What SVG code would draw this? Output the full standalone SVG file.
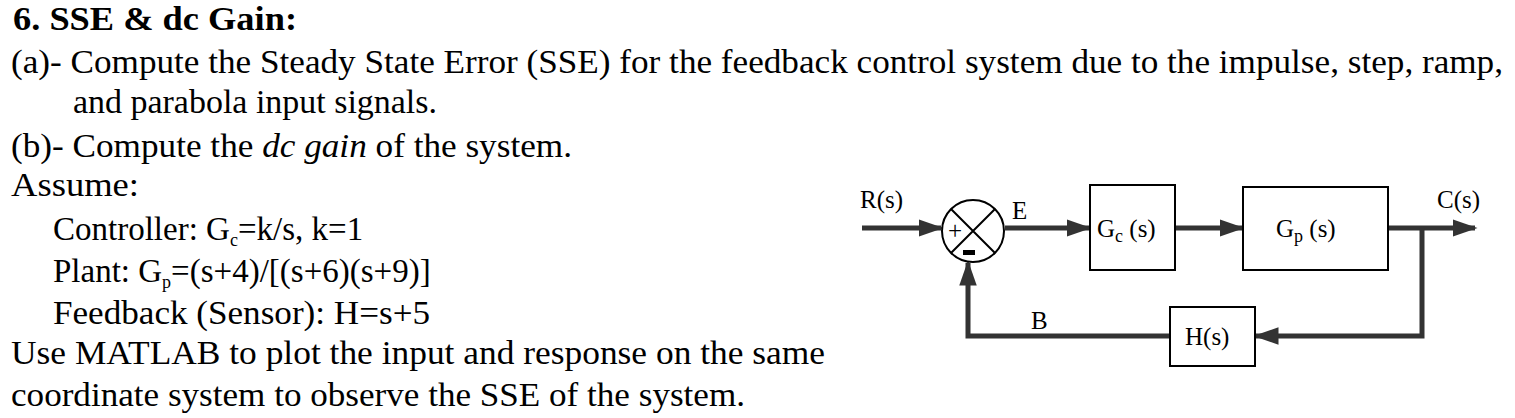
<svg xmlns="http://www.w3.org/2000/svg" width="1515" height="418" viewBox="0 0 1515 418">
<style>
.t{font-family:"Liberation Serif",serif;font-size:33px;fill:#000}
.d{font-family:"Liberation Serif",serif;font-size:25px;fill:#000}
.s{font-size:18px}
.b{fill:#fff;stroke:#000;stroke-width:2}
.w{fill:none;stroke:#333;stroke-width:5}
</style>
<defs><marker id="a" viewBox="0 0 10 10" refX="9" refY="5" markerWidth="5" markerHeight="3.5" orient="auto" markerUnits="strokeWidth" preserveAspectRatio="none"><path d="M0,0L10,5L0,10z" fill="#333"/></marker></defs>
<rect width="1515" height="418" fill="#fff"/>
<text class="t" x="13" y="30" font-weight="bold" textLength="284" lengthAdjust="spacingAndGlyphs">6. SSE &amp; dc Gain:</text>
<text class="t" x="11" y="73" textLength="1492" lengthAdjust="spacingAndGlyphs">(a)- Compute the Steady State Error (SSE) for the feedback control system due to the impulse, step, ramp,</text>
<text class="t" x="73" y="113" textLength="364" lengthAdjust="spacingAndGlyphs">and parabola input signals.</text>
<text class="t" x="11" y="157" textLength="561" lengthAdjust="spacingAndGlyphs">(b)- Compute the <tspan font-style="italic">dc gain</tspan> of the system.</text>
<text class="t" x="11" y="196" textLength="128" lengthAdjust="spacingAndGlyphs">Assume:</text>
<text class="t" x="53" y="240">Controller: G<tspan class="s" dy="6">c</tspan><tspan dy="-6">=k/s, k=1</tspan></text>
<text class="t" x="53" y="282">Plant: G<tspan class="s" dy="6">p</tspan><tspan dy="-6">=(s+4)/[(s+6)(s+9)]</tspan></text>
<text class="t" x="53" y="324" textLength="377" lengthAdjust="spacingAndGlyphs">Feedback (Sensor): H=s+5</text>
<text class="t" x="11" y="364" textLength="814" lengthAdjust="spacingAndGlyphs">Use MATLAB to plot the input and response on the same</text>
<text class="t" x="11" y="406" textLength="734" lengthAdjust="spacingAndGlyphs">coordinate system to observe the SSE of the system.</text>
<g id="connectors">
<path class="w" d="M862,228H941" marker-end="url(#a)"/>
<path class="w" d="M1005,228H1089" marker-end="url(#a)"/>
<path class="w" d="M1176,228H1242" marker-end="url(#a)"/>
<path class="w" d="M1388,228H1475" marker-end="url(#a)"/>
<path class="w" d="M1422,228V336H1256" marker-end="url(#a)"/>
<path class="w" d="M1170,336H968V263" marker-end="url(#a)"/>
</g>
<g id="sum"><circle cx="973" cy="231" r="31" class="b" stroke-width="3"/><path d="M951,209L995,253M995,209L951,253" stroke="#000" stroke-width="2"/><text class="d" x="948" y="239" font-size="20">+</text><rect x="963" y="250" width="12" height="5" fill="#000"/></g>
<g id="Gc"><rect class="b" x="1090" y="185" width="85" height="85"/><text class="d" x="1097" y="237">G<tspan font-size="18" dy="5">c</tspan><tspan dy="-5"> (s)</tspan></text></g>
<g id="Gp"><rect class="b" x="1243" y="187" width="145" height="83"/><text class="d" x="1276" y="237">G<tspan font-size="18" dy="5">p</tspan><tspan dy="-5"> (s)</tspan></text></g>
<g id="H"><rect class="b" x="1170" y="307" width="85" height="59"/><text class="d" x="1185" y="345">H(s)</text></g>
<text class="d" x="860" y="208">R(s)</text>
<text class="d" x="1012" y="219">E</text>
<text class="d" x="1437" y="208">C(s)</text>
<text class="d" x="1031" y="329">B</text>
</svg>
